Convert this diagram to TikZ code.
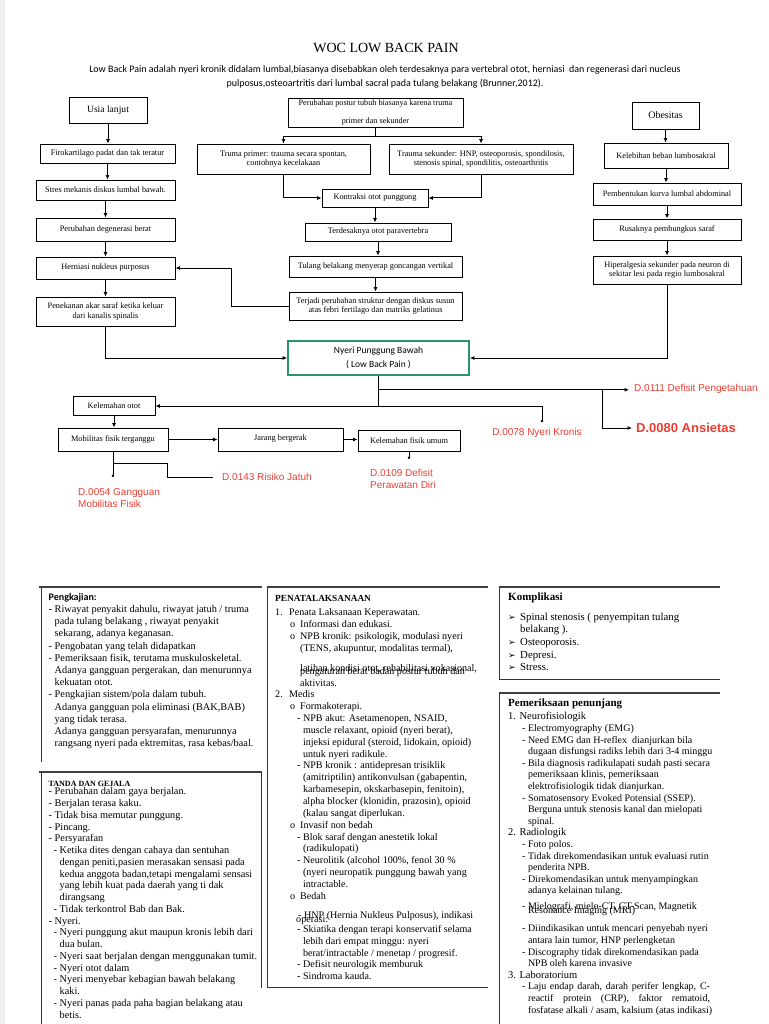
\documentclass[tikz,border=0pt]{standalone}
\usepackage{fontspec}
\setmainfont{Liberation Serif}
\newfontfamily\calibri{Carlito}
\newfontfamily\arialf{Liberation Sans}
\newfontfamily\dejavu{DejaVu Sans}
\usetikzlibrary{arrows.meta,positioning}

\definecolor{dxred}{RGB}{235,62,50}
\definecolor{nyerigreen}{RGB}{40,150,105}

% indents for the text panels
\newcommand{\tgsub}{\hspace*{5pt}- }
\newcommand{\tgsubc}{\hspace*{11pt}}
\newcommand{\tgc}{\hspace*{6pt}}
\newcommand{\peo}{\hspace*{15pt}\makebox[10pt][l]{o}}
\newcommand{\peoc}{\hspace*{25pt}}
\newcommand{\pesub}{\hspace*{22pt}- }
\newcommand{\pesubc}{\hspace*{27.8pt}}
\newcommand{\pmsub}{\hspace*{14pt}- }
\newcommand{\pmsubc}{\hspace*{19.8pt}}
\newcommand{\kbul}{\makebox[12pt][l]{\dejavu\fontsize{9}{9}\selectfont ➢}}

\begin{document}
\begin{tikzpicture}[>={Latex[length=4.5pt,width=4pt]}, x=1pt, y=-1pt,
  box/.style={draw, line width=0.9pt, inner sep=1pt, align=center, font=\fontsize{8.3}{9.6}\selectfont},
  link/.style={line width=1pt},
  tick/.style={line width=0.9pt, -{Circle[length=2.4pt]}},
  dx/.style={text=dxred, font=\arialf\fontsize{10}{12}\selectfont, inner sep=0pt, align=left},
  panel/.style={inner sep=0pt, anchor=north west, align=left},
  frame/.style={line width=0.8pt, black!80},
  topframe/.style={line width=1.6pt, black!75}]
\useasboundingbox (0,0) rectangle (768,1024);
\fill[black!6] (0,0) rectangle (5,1024);

% title
\node[font=\fontsize{14}{16}\selectfont] (title) at (386,48) {WOC LOW BACK PAIN};
\node[font=\calibri\fontsize{10}{14}\selectfont, align=center] (intro) at (385,77)
  {Low Back Pain adalah nyeri kronik didalam lumbal,biasanya disebabkan oleh terdesaknya para vertebral otot, herniasi\ \ dan regenerasi dari nucleus\\
   pulposus,osteoartritis dari lumbal sacral pada tulang belakang (Brunner,2012).};

% left column
\node[box, minimum width=78, minimum height=26, font=\fontsize{9.6}{11}\selectfont] (usia) at (108,110) {Usia lanjut};
\node[box, minimum width=135, minimum height=19] (firo) at (107.5,153.5) {Firokartilago padat dan tak teratur};
\node[box, minimum width=139, minimum height=20] (stres) at (105.5,190) {Stres mekanis diskus lumbal bawah.};
\node[box, minimum width=139, minimum height=23] (degen) at (105.5,229.5) {Perubahan degenerasi berat};
\node[box, minimum width=139, minimum height=22] (hernia) at (105.5,268) {Herniasi nukleus purposus};
\node[box, minimum width=139, minimum height=29] (tekan) at (105.5,311.5) {Penekanan akar saraf ketika keluar\\dari kanalis spinalis};

% middle column
\node[box, minimum width=175, minimum height=29, font=\fontsize{8.2}{18.5}\selectfont] (postur) at (375.5,112.5) {Perubahan postur tubuh biasanya karena truma\\primer dan sekunder};
\node[box, minimum width=173, minimum height=30] (primer) at (283.5,159) {Truma primer: trauma secara spontan,\\contohnya kecelakaan};
\node[box, minimum width=184, minimum height=30] (sekunder) at (481,159) {Trauma sekunder: HNP, osteoporosis, spondilosis,\\stenosis spinal, spondilitis, osteoarthritis};
\node[box, minimum width=106, minimum height=18] (kontraksi) at (375,198) {Kontraksi otot punggung};
\node[box, minimum width=146, minimum height=18] (desak) at (378,232) {Terdesaknya otot paravertebra};
\node[box, minimum width=173, minimum height=21] (tulang) at (375.5,266.5) {Tulang belakang menyerap goncangan vertikal};
\node[box, minimum width=173, minimum height=28] (struktur) at (375.5,306) {Terjadi perubahan struktur dengan diskus susun\\atas febri fertilago dan matriks gelatinus};

% right column
\node[box, minimum width=67, minimum height=27, font=\fontsize{10}{11}\selectfont] (obesitas) at (665.5,115.5) {Obesitas};
\node[box, minimum width=124, minimum height=25] (beban) at (666,155.5) {Kelebihan beban lumbosakral};
\node[box, minimum width=148, minimum height=22] (kurva) at (667,194) {Pembentukan kurva lumbal abdominal};
\node[box, minimum width=148, minimum height=21] (saraf) at (667,229.5) {Rusaknya pembungkus saraf};
\node[box, minimum width=148, minimum height=28] (hiper) at (667,270) {Hiperalgesia sekunder pada neuron di\\sekitar lesi pada regio lumbosakral};

% main problem
\node[box, draw=nyerigreen, line width=1.6pt, minimum width=181, minimum height=34, font=\calibri\fontsize{9.5}{14}\selectfont] (nyeri) at (378.5,358) {Nyeri Punggung Bawah\\( Low Back Pain )};

% lower chain
\node[box, minimum width=82, minimum height=19] (lemahotot) at (114,405.5) {Kelemahan otot};
\node[box, minimum width=110, minimum height=23] (mobilitas) at (113,439.5) {Mobilitas fisik terganggu};
\node[box, minimum width=125, minimum height=23] (jarang) at (280.5,439.5) {\raisebox{3pt}{Jarang bergerak}};
\node[box, minimum width=102, minimum height=21] (lemahfisik) at (409,440.5) {Kelemahan fisik umum};

% diagnoses
\node[dx, anchor=west] (d0111) at (634,389) {D.0111 Defisit Pengetahuan};
\node[dx, anchor=west, font=\arialf\bfseries\fontsize{13}{15}\selectfont] (d0080) at (636,428) {D.0080 Ansietas};
\node[dx] (d0078) at (537,433) {D.0078 Nyeri Kronis};
\node[dx, anchor=north west] (d0109) at (370,469) {D.0109 Defisit\\Perawatan Diri};
\node[dx, anchor=west] (d0143) at (222,477) {D.0143 Risiko Jatuh};
\node[dx, anchor=north west] (d0054) at (78,488) {D.0054 Gangguan\\Mobilitas Fisik};

% connectors, top part
\draw[->, link] (usia.south) -- (usia.south |- firo.north);
\draw[->, link] (firo.south) -- (firo.south |- stres.north);
\draw[->, link] (stres.south) -- (stres.south |- degen.north);
\draw[->, link] (degen.south) -- (degen.south |- hernia.north);
\draw[->, link] (hernia.south) -- (hernia.south |- tekan.north);

\coordinate (split) at (375.5,137);
\draw[link] (postur.south) -- (split);
\draw[->, link] (split) -| (primer.north);
\draw[->, link] (split) -| (sekunder.north);
\draw[->, link] (primer.south) |- (kontraksi.west);
\draw[->, link] (sekunder.south) |- (kontraksi.east);
\draw[->, link] (kontraksi.south) -- (kontraksi.south |- desak.north);
\draw[->, link] (desak.south) -- (desak.south |- tulang.north);
\draw[->, link] (tulang.south) -- (tulang.south |- struktur.north);
\draw[->, link] (struktur.west) -- ++(-57,0) |- (hernia.east);

\draw[->, link] (obesitas.south) -- (obesitas.south |- beban.north);
\draw[->, link] (beban.south) -- (beban.south |- kurva.north);
\draw[->, link] (kurva.south) -- (kurva.south |- saraf.north);
\draw[->, link] (saraf.south) -- (saraf.south |- hiper.north);

\draw[->, link] (tekan.south) |- (nyeri.west);
\draw[->, link] (hiper.south) |- (nyeri.east);

% connectors, bottom part
\path (nyeri.south) ++(0,14) coordinate (fork) ++(0,17) coordinate (base);
\coordinate (fork2) at (602,389);
\coordinate (kronis) at (542,406);
\coordinate (jatuh) at (113,463);
\draw[link] (nyeri.south) -- (base);
\draw[->, link, shorten >=5pt] (fork) -- (fork -| d0111.west);
\draw[->, link, shorten >=4pt] (fork2) |- (d0080.west);
\draw[->, link] (kronis) -- (kronis -| lemahotot.east);
\draw[tick, shorten >=6pt] (kronis) -- (kronis |- d0078.north);

\draw[->, link] (lemahotot.south) -- (lemahotot.south |- mobilitas.north);
\draw[->, link] (mobilitas.east) -- (mobilitas.east -| jarang.west);
\draw[->, link] (jarang.east) -- (jarang.east -| lemahfisik.west);
\draw[tick, shorten >=10pt] (lemahfisik.south) -- (lemahfisik.south |- d0109.north);
\draw[tick, shorten >=11pt] (mobilitas.south) -- (mobilitas.south |- d0054.north);
\draw[link, shorten >=9pt] (jatuh) -| ++(54,14) -- (d0143.west);

% text panels
\draw[topframe] (39,587) -- (262,587);
\draw[frame] (41,587) -- (41,762);
\draw[topframe] (39,772) -- (262,772);
\draw[frame] (41,772) -- (41,1024);
\draw[frame] (261,772) -- (261,988);
\draw[topframe] (267,587) -- (488,587);
\draw[frame] (267,587) -- (267,987) -- (488,987);
\draw[topframe] (499,587) -- (720,587);
\draw[frame] (499,587) -- (499,679) -- (720,679);
\draw[topframe] (499,693) -- (720,693);
\draw[frame] (499,693) -- (499,1024);

\node[panel, font=\fontsize{10.3}{12.2}\selectfont] (kaji) at (48.5,593) {%
{\calibri\bfseries\fontsize{10}{11}\selectfont Pengkajian:}\\
- Riwayat penyakit dahulu, riwayat jatuh / truma\\
\tgc pada tulang belakang , riwayat penyakit\\
\tgc sekarang, adanya keganasan.\\
- Pengobatan yang telah didapatkan\\
- Pemeriksaan fisik, terutama muskuloskeletal.\\
\tgc Adanya gangguan pergerakan, dan menurunnya\\
\tgc kekuatan otot.\\
- Pengkajian sistem/pola dalam tubuh.\\
\tgc Adanya gangguan pola eliminasi (BAK,BAB)\\
\tgc yang tidak terasa.\\
\tgc Adanya gangguan persyarafan, menurunnya\\
\tgc rangsang nyeri pada ektremitas, rasa kebas/baal.};

\node[panel, anchor=west, font=\bfseries\fontsize{8}{9}\selectfont] (tandahead) at (48.5,784) {TANDA DAN GEJALA};
\node[panel, font=\fontsize{10.3}{11.75}\selectfont] (tanda) at (48.5,787.5) {%
- Perubahan dalam gaya berjalan.\\
- Berjalan terasa kaku.\\
- Tidak bisa memutar punggung.\\
- Pincang.\\
- Persyarafan\\
\tgsub Ketika dites dengan cahaya dan sentuhan\\
\tgsubc dengan peniti,pasien merasakan sensasi pada\\
\tgsubc kedua anggota badan,tetapi mengalami sensasi\\
\tgsubc yang lebih kuat pada daerah yang ti dak\\
\tgsubc dirangsang\\
\tgsub Tidak terkontrol Bab dan Bak.\\
- Nyeri.\\
\tgsub Nyeri punggung akut maupun kronis lebih dari\\
\tgsubc dua bulan.\\
\tgsub Nyeri saat berjalan dengan menggunakan tumit.\\
\tgsub Nyeri otot dalam\\
\tgsub Nyeri menyebar kebagian bawah belakang\\
\tgsubc kaki.\\
\tgsub Nyeri panas pada paha bagian belakang atau\\
\tgsubc betis.};

\node[panel, anchor=west, font=\bfseries\fontsize{9.3}{10}\selectfont] (tatahead) at (275,598) {PENATALAKSANAAN};
\node[panel, font=\fontsize{10.1}{11.85}\selectfont] (tata) at (275,608.5) {%
\makebox[14pt][l]{1.}Penata Laksanaan Keperawatan.\\
\peo Informasi dan edukasi.\\
\peo NPB kronik: psikologik, modulasi nyeri\\
\peoc (TENS, akupuntur, modalitas termal),\\[8.5pt]
\peoc\rlap{\raisebox{-3pt}{pengaturan berat badan postur tubuh dan}}latihan kondisi otot, rehabilitasi vokasional,\\[1.2pt]
\peoc aktivitas.\\
\makebox[14pt][l]{2.}Medis\\
\peo Formakoterapi.\\
\pesub NPB akut: Asetamenopen, NSAID,\\
\pesubc muscle relaxant, opioid (nyeri berat),\\
\pesubc injeksi epidural (steroid, lidokain, opioid)\\
\pesubc untuk nyeri radikule.\\
\pesub NPB kronik : antidepresan trisiklik\\
\pesubc (amitriptilin) antikonvulsan (gabapentin,\\
\pesubc karbamesepin, okskarbasepin, fenitoin),\\
\pesubc alpha blocker (klonidin, prazosin), opioid\\
\pesubc (kalau sangat diperlukan.\\
\peo Invasif non bedah\\
\pesub Blok saraf dengan anestetik lokal\\
\pesubc (radikulopati)\\
\pesub Neurolitik (alcohol 100\%, fenol 30 \%\\
\pesubc (nyeri neuropatik punggung bawah yang\\
\pesubc intractable.\\
\peo Bedah\\[7pt]
\hspace*{21pt}\rlap{\raisebox{-4pt}{operasi:}}\hspace*{2pt}- HNP (Hernia Nukleus Pulposus), indikasi\\
\pesub Skiatika dengan terapi konservatif selama\\
\pesubc lebih dari empat minggu: nyeri\\
\pesubc berat/intractable / menetap / progresif.\\
\pesub Defisit neurologik memburuk\\
\pesub Sindroma kauda.};

\node[panel, font=\fontsize{10.8}{12.7}\selectfont] (komp) at (508,593) {%
{\bfseries\fontsize{11}{12}\selectfont Komplikasi}\\[6.5pt]
\kbul Spinal stenosis ( penyempitan tulang\\
\hspace*{12pt}belakang ).\\
\kbul Osteoporosis.\\
\kbul Depresi.\\
\kbul Stress.};

\node[panel, font=\fontsize{10}{11.6}\selectfont] (periksa) at (508,699) {%
{\bfseries\fontsize{11}{12}\selectfont Pemeriksaan penunjang}\\[1.4pt]
{\fontsize{10.5}{12}\selectfont 1. Neurofisiologik}\\
\pmsub Electromyography (EMG)\\
\pmsub Need EMG dan H-reflex\ \ dianjurkan bila\\
\pmsubc dugaan disfungsi radiks lebih dari 3-4 minggu\\
\pmsub Bila diagnosis radikulapati sudah pasti secara\\
\pmsubc pemeriksaan klinis, pemeriksaan\\
\pmsubc elektrofisiologik tidak dianjurkan.\\
\pmsub Somatosensory Evoked Potensial (SSEP).\\
\pmsubc Berguna untuk stenosis kanal dan mielopati\\
\pmsubc spinal.\\
{\fontsize{10.5}{12}\selectfont 2. Radiologik}\\
\pmsub Foto polos.\\
\pmsub Tidak direkomendasikan untuk evaluasi rutin\\
\pmsubc penderita NPB.\\
\pmsub Direkomendasikan untuk menyampingkan\\
\pmsubc adanya kelainan tulang.\\[4.4pt]
\hspace*{14pt}\rlap{\hspace*{5.8pt}\raisebox{-3.5pt}{Resonance Imaging (MRI)}}- Mielografi, mielo-CT, CT-Scan, Magnetik\\[8.4pt]
\pmsub Diindikasikan untuk mencari penyebab nyeri\\
\pmsubc antara lain tumor, HNP perlengketan\\
\pmsub Discography tidak direkomendasikan pada\\
\pmsubc NPB oleh karena invasive\\
{\fontsize{10.5}{12}\selectfont 3. Laboratorium}\\
\pmsub \makebox[182pt][s]{Laju endap darah, darah perifer lengkap, C-}\\
\pmsubc \makebox[182pt][s]{reactif protein (CRP), faktor rematoid,}\\
\pmsubc fosfatase alkali / asam, kalsium (atas indikasi)};
\end{tikzpicture}
\end{document}
